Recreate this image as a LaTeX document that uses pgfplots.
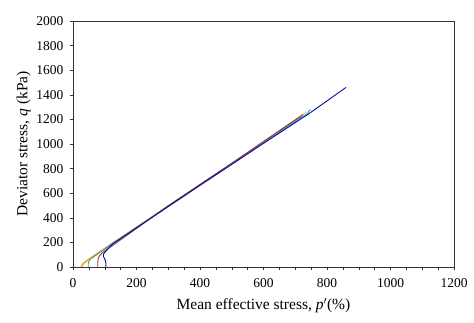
\documentclass[border=0pt]{standalone}
\usepackage{pgfplots}
\pgfplotsset{compat=1.18}
\usepackage{fontspec}
\setmainfont{Liberation Serif}
\definecolor{corange}{RGB}{240,140,30}
\definecolor{cyellow}{RGB}{225,215,80}
\definecolor{cgreen}{RGB}{60,175,120}
\definecolor{ccyan}{RGB}{70,160,210}
\definecolor{cpurple}{RGB}{130,80,160}
\definecolor{cbrown}{RGB}{150,50,70}
\definecolor{cnavy}{RGB}{10,10,170}
\begin{document}
\begin{tikzpicture}
\begin{axis}[
  scale only axis, width=381bp, height=246bp,
  xmin=0, xmax=1200, ymin=0, ymax=2000,
  xtick={0,200,...,1200}, ytick={0,200,...,2000},
  minor x tick num=3,
  tick align=outside, tick pos=left,
  major tick length=3bp, minor tick length=3bp,
  axis line style={line width=0.8pt, black!80},
  every tick/.style={black!80, line width=0.5pt},
  tick label style={font=\fontsize{13.5bp}{15bp}\selectfont},
  xticklabel style={yshift=-5bp},
  yticklabel style={xshift=-3bp},
  /pgf/number format/assume math mode=true,
  /pgf/number format/1000 sep={},
  label style={font=\fontsize{15.5bp}{18bp}\selectfont},
  xlabel={Mean effective stress, \textit{p}$'$(\%)},
  ylabel={Deviator stress, \textit{q} (kPa)},
  xlabel style={yshift=-4bp},
  ylabel style={yshift=-1bp},
  every axis plot/.append style={line width=0.9pt, no marks},
  clip=false,
]
% yellow
\addplot[cyellow] coordinates {(30,0)(32,15)(38,35)(50,60)(70,95)(100,150)(300,496)(500,840)(735,1262)};
% orange
\addplot[corange] coordinates {(25,0)(27,12)(32,30)(42,50)(60,82)(80,117)(100,152)(300,498)(500,842)(690,1175)};
% green
\addplot[cgreen] coordinates {(48,0)(48,25)(50,48)(56,65)(70,92)(90,128)(110,163)(300,496)(500,840)(720,1222)};
% cyan
\addplot[ccyan] coordinates {(100,150)(300,494)(500,836)(700,1183)(738,1248)(745,1275)(742,1262)(748,1280)};
% purple / brown
\addplot[cbrown] coordinates {(78,0)(78,35)(79,65)(83,90)(92,115)(105,140)(120,166)(300,498)(500,844)(650,1108)(725,1240)};
% navy
\addplot[cnavy] coordinates {(103,0)(104,25)(101,60)(96,85)(96,105)(102,125)(110,148)(125,188)(200,318)(400,664)(600,1005)(745,1250)(860,1460)};
\path (rel axis cs:0,0) ++(-73bp,-56bp) coordinate (bl);
\path (rel axis cs:1,1) ++(20bp,21bp) coordinate (tr);
\useasboundingbox (bl) rectangle (tr);
\end{axis}
\end{tikzpicture}
\end{document}
